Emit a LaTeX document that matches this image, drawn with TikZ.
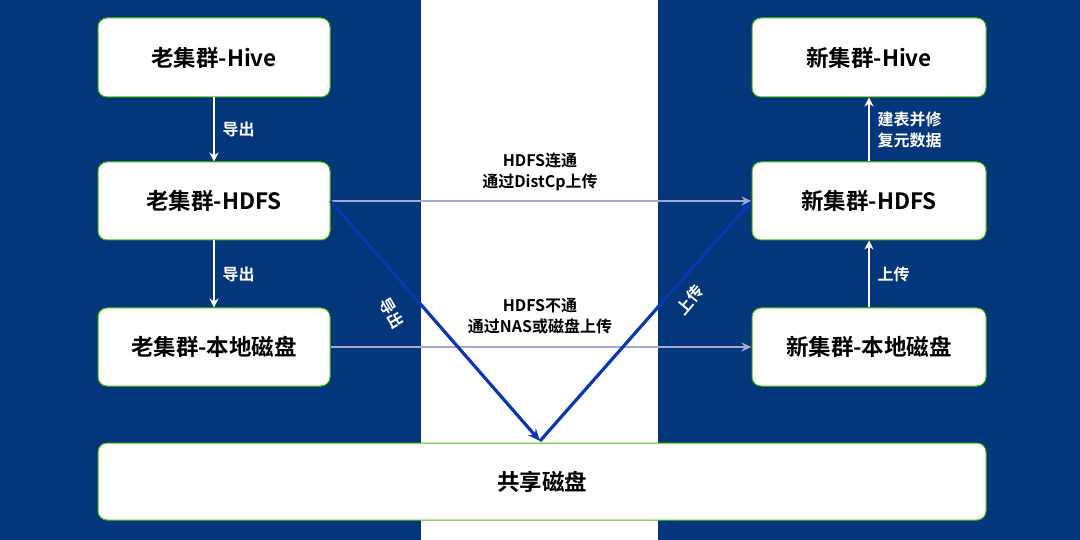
\documentclass[tikz,border=0pt]{standalone}
\usepackage{fontspec}
\usetikzlibrary{arrows.meta}
\setmainfont{Noto Sans CJK SC}[BoldFont={* Bold}]
\begin{document}
\begin{tikzpicture}[x=1pt,y=-1pt,
 box/.style={draw=green!55!black!60!lime, line width=1pt, fill=white, rounded corners=9pt, font=\bfseries\fontsize{22.5}{26}\selectfont, text=black},
 lbl/.style={font=\bfseries\fontsize{16}{21}\selectfont, align=center},
 ha/.style={draw=harr, line width=2.5pt, -{Stealth[length=10pt,width=9pt]}},
 da/.style={draw=darr, line width=3.2pt, -{Stealth[length=12pt,width=10pt]}},
 va/.style={draw=white, line width=2.5pt, -{Stealth[length=9pt,width=9pt]}}]
\definecolor{bg}{HTML}{04367C}
\definecolor{harr}{HTML}{A3A9CF}
\definecolor{darr}{HTML}{0A36B0}
\useasboundingbox (0,0) rectangle (1080,540);
\fill[bg] (0,0) rectangle (421,540);
\fill[bg] (658,0) rectangle (1080,540);
\node[box, minimum width=232pt, minimum height=79pt] (oh) at (214,57.5) {老集群-Hive};
\node[box, minimum width=232pt, minimum height=78pt] (of) at (214,201) {老集群-HDFS};
\node[box, minimum width=232pt, minimum height=78pt] (od) at (214,347) {老集群-本地磁盘};
\node[box, minimum width=234pt, minimum height=79pt] (nh) at (869,57.5) {新集群-Hive};
\node[box, minimum width=234pt, minimum height=78pt] (nf) at (869,201) {新集群-HDFS};
\node[box, minimum width=234pt, minimum height=78pt] (nd) at (869,347) {新集群-本地磁盘};
\node[box, minimum width=888pt, minimum height=77pt] (sd) at (542,481.5) {共享磁盘};
\draw[va] (oh) -- node[right, lbl, text=white, xshift=4pt]{导出} (of);
\draw[va] (of) -- node[right, lbl, text=white, xshift=4pt]{导出} (od);
\draw[va] (nf) -- node[right, lbl, text=white, xshift=4pt]{建表并修\\复元数据} (nh);
\draw[va] (nd) -- node[right, lbl, text=white, xshift=4pt]{上传} (nf);
\draw[ha] (of.east) -- (nf.west);
\draw[ha] (od.east) -- (nd.west);
\node[lbl] at (540,172) {HDFS连通\\通过DistCp上传};
\node[lbl] at (540,316) {HDFS不通\\通过NAS或磁盘上传};
\coordinate (v) at (540,441);
\draw[da] (of.east) -- (v);
\draw[da] (v) -- (nf.west);
\node[lbl, text=white, rotate=-60] at (392,313) {导出};
\node[lbl, text=white, rotate=50] at (690,300) {上传};
\end{tikzpicture}
\end{document}
